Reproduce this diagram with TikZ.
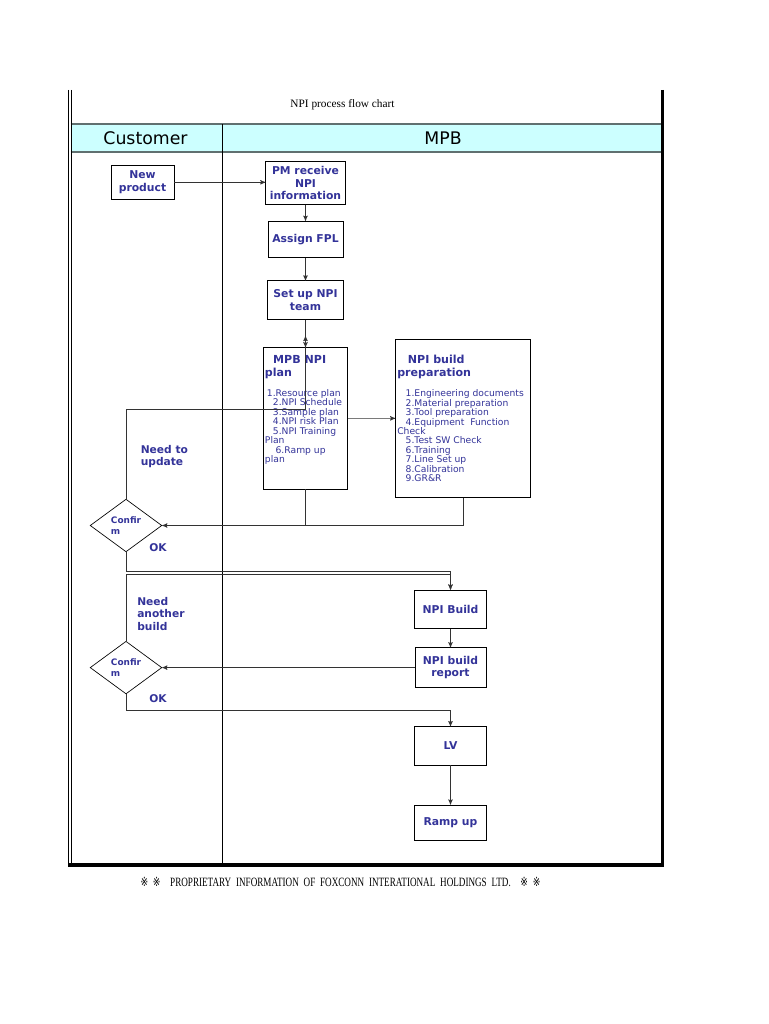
\documentclass[tikz,border=0pt]{standalone}
\usepackage{fontspec}
\usepackage{graphicx}
\usetikzlibrary{shapes.geometric,arrows}
\newfontfamily\dejavu{DejaVu Sans}
\newfontfamily\timesfont{Liberation Serif}
\definecolor{npiblue}{RGB}{51,51,153}
\definecolor{lanecyan}{RGB}{204,255,255}
\definecolor{lanegray}{RGB}{96,112,112}
\newcommand\boxfont{\dejavu\bfseries\fontsize{8.1}{9.4}\selectfont}
\newcommand\notefont{\dejavu\bfseries\fontsize{8}{9.4}\selectfont}
\newcommand\headfont{\dejavu\bfseries\fontsize{8.3}{10}\selectfont}
\newcommand\listfont{\dejavu\mdseries\fontsize{6.9}{7.1}\selectfont}
\newcommand\decfont{\dejavu\bfseries\fontsize{6.7}{8.5}\selectfont}
\newcommand\fgap{\hspace{5pt}}
\newcommand\plantext{\parbox[t]{90pt}{\raggedright
    \headfont\hspace*{6.2pt}MPB NPI\\plan\par\vspace{7.8pt}
    \listfont\hspace*{1.5pt}1.Resource plan\\\hspace*{6pt}2.NPI Schedule\\\hspace*{6pt}3.Sample plan\\
    \hspace*{6pt}4.NPI risk Plan\\\hspace*{6pt}5.NPI Training\\Plan\\\hspace*{8pt}6.Ramp up\\plan}}
\newcommand\preptext{\parbox[t]{120pt}{\raggedright
    \headfont\hspace*{8pt}NPI build\\preparation\par\vspace{7.8pt}
    \listfont\hspace*{6.3pt}1.Engineering documents\\\hspace*{6.3pt}2.Material preparation\\
    \hspace*{6.3pt}3.Tool preparation\\\hspace*{6.3pt}4.Equipment\ \ Function\\Check\\
    \hspace*{6.3pt}5.Test SW Check\\\hspace*{6.3pt}6.Training\\\hspace*{6.3pt}7.Line Set up\\
    \hspace*{6.3pt}8.Calibration\\\hspace*{6.3pt}9.GR\&R}}
\tikzset{procbox/.style={draw,line width=0.6pt,fill=white,align=center,text=npiblue,font=\boxfont,inner sep=1pt}}
\tikzset{listlabel/.style={anchor=north west,inner sep=0pt,text=npiblue}}
\tikzset{decision/.style={diamond,draw,line width=0.5pt,aspect=1.36,minimum width=53.8pt,minimum height=39.5pt,inner sep=0pt,align=left,text=npiblue,font=\decfont}}
\tikzset{note/.style={align=left,text=npiblue,font=\notefont,inner sep=0pt}}
\tikzset{flow/.style={draw=black!80,line width=0.5pt}}
\tikzset{>=stealth'}

\begin{document}
\begin{tikzpicture}[x=0.75pt,y=-0.75pt]
        \useasboundingbox (0,0) rectangle (768,1024);

        \fill[lanecyan] (70.5,124) rectangle (661,152);
        \draw[lanegray,line width=1.2pt] (70.5,124) -- (661,124) (70.5,152) -- (661,152);
        \draw[line width=0.75pt] (68.5,90) -- (68.5,866) (71,90) -- (71,866);
        \draw[line width=2.4pt] (662.5,90) -- (662.5,866.5);
        \draw[line width=3pt] (68,864.5) -- (664,864.5);
        \draw[line width=1.3pt] (222.5,124) -- (222.5,864);

        \node[font=\timesfont\fontsize{8.5}{10}\selectfont] (title) at (342.5,105) {NPI process flow chart};
        \node[font=\dejavu\fontsize{13}{15}\selectfont] (custhead) at (145.5,138) {Customer};
        \node[font=\dejavu\fontsize{13}{15}\selectfont] (mpbhead) at (443,138) {MPB};

        \node[procbox,minimum width=47.25pt,minimum height=25.5pt] (newprod) at (142.5,182.3) {New\\product};
        \node[procbox,minimum width=59.5pt,minimum height=31.7pt] (pmrecv) at (305.5,183) {PM receive\\NPI\\information};
        \node[procbox,minimum width=56.25pt,minimum height=27.3pt] (assign) at (305.5,239.5) {Assign FPL};
        \node[procbox,minimum width=57.4pt,minimum height=28.7pt] (setup) at (305.5,300) {Set up NPI\\team};
        \node[procbox,minimum width=63pt,minimum height=106pt,
            label={[listlabel,xshift=1.2pt,yshift=-5.6pt]north west:{\plantext}}] (plan) at (305.5,418.4) {};
        \node[procbox,minimum width=101.25pt,minimum height=118.5pt,
            label={[listlabel,xshift=1.3pt,yshift=-11.9pt]north west:{\preptext}}] (prep) at (463.2,418.3) {};

        \node[decision] (confirmA) at (126,525.5) {Confir\\m};
        \node[decision] (confirmB) at (126,667.6) {Confir\\m};
        \node[note,anchor=west] (needupd) at (140.5,456.7) {Need to\\update};
        \node[note] (oklabA) at (158,548) {OK};
        \node[note,anchor=west] (needbuild) at (137,613.9) {Need\\another\\build};
        \node[note] (oklabB) at (158,699) {OK};

        \node[procbox,minimum width=54pt,minimum height=28.7pt] (build) at (450.5,609.2) {NPI Build};
        \node[procbox,minimum width=53.25pt,minimum height=29.7pt] (report) at (450.5,667.6) {NPI build\\report};
        \node[procbox,minimum width=53.5pt,minimum height=28.7pt] (lv) at (450.5,745.8) {LV};
        \node[procbox,minimum width=53.5pt,minimum height=26.25pt] (ramp) at (450.5,822.5) {Ramp up};

        \coordinate (updjoin) at (305.5,409.3);
        \coordinate (updtip) at (305.5,336);
        \coordinate (okA) at (126,571);
        \coordinate (againB) at (126,574);
        \coordinate (okB) at (126,710.7);

        \draw[flow,->] (newprod.east) -- (newprod.east -| pmrecv.west);
        \draw[flow,->] (pmrecv) -- (assign);
        \draw[flow,->] (assign) -- (setup);
        \draw[flow,->] (setup) -- (plan);
        \draw[flow,->] (plan) -- (prep);
        \draw[flow,->] (prep.south) |- (confirmA.east);
        \draw[flow] (plan.south) -- (plan.south |- confirmA.east);
        \draw[flow,->] (confirmA.north) |- (updjoin) -- (updtip);
        \draw[flow,->] (confirmA.south) -- (okA) -| (build.north);
        \draw[flow,->] (confirmB.north) -- (againB) -| (build.north);
        \draw[flow,->] (build) -- (report);
        \draw[flow,->] (report) -- (confirmB);
        \draw[flow,->] (confirmB.south) -- (okB) -| (lv.north);
        \draw[flow,->] (lv) -- (ramp);

        \node[inner sep=0pt] (footer) at (340.5,881.5) {\scalebox{0.72}[1]{\timesfont\fontsize{9.5}{10}\selectfont
            {\dejavu ※\fgap※}\fgap\fgap PROPRIETARY\fgap INFORMATION\fgap OF\fgap FOXCONN\fgap INTERATIONAL\fgap HOLDINGS\fgap LTD.\fgap\fgap{\dejavu ※\fgap※}}};
    \end{tikzpicture}
\end{document}
